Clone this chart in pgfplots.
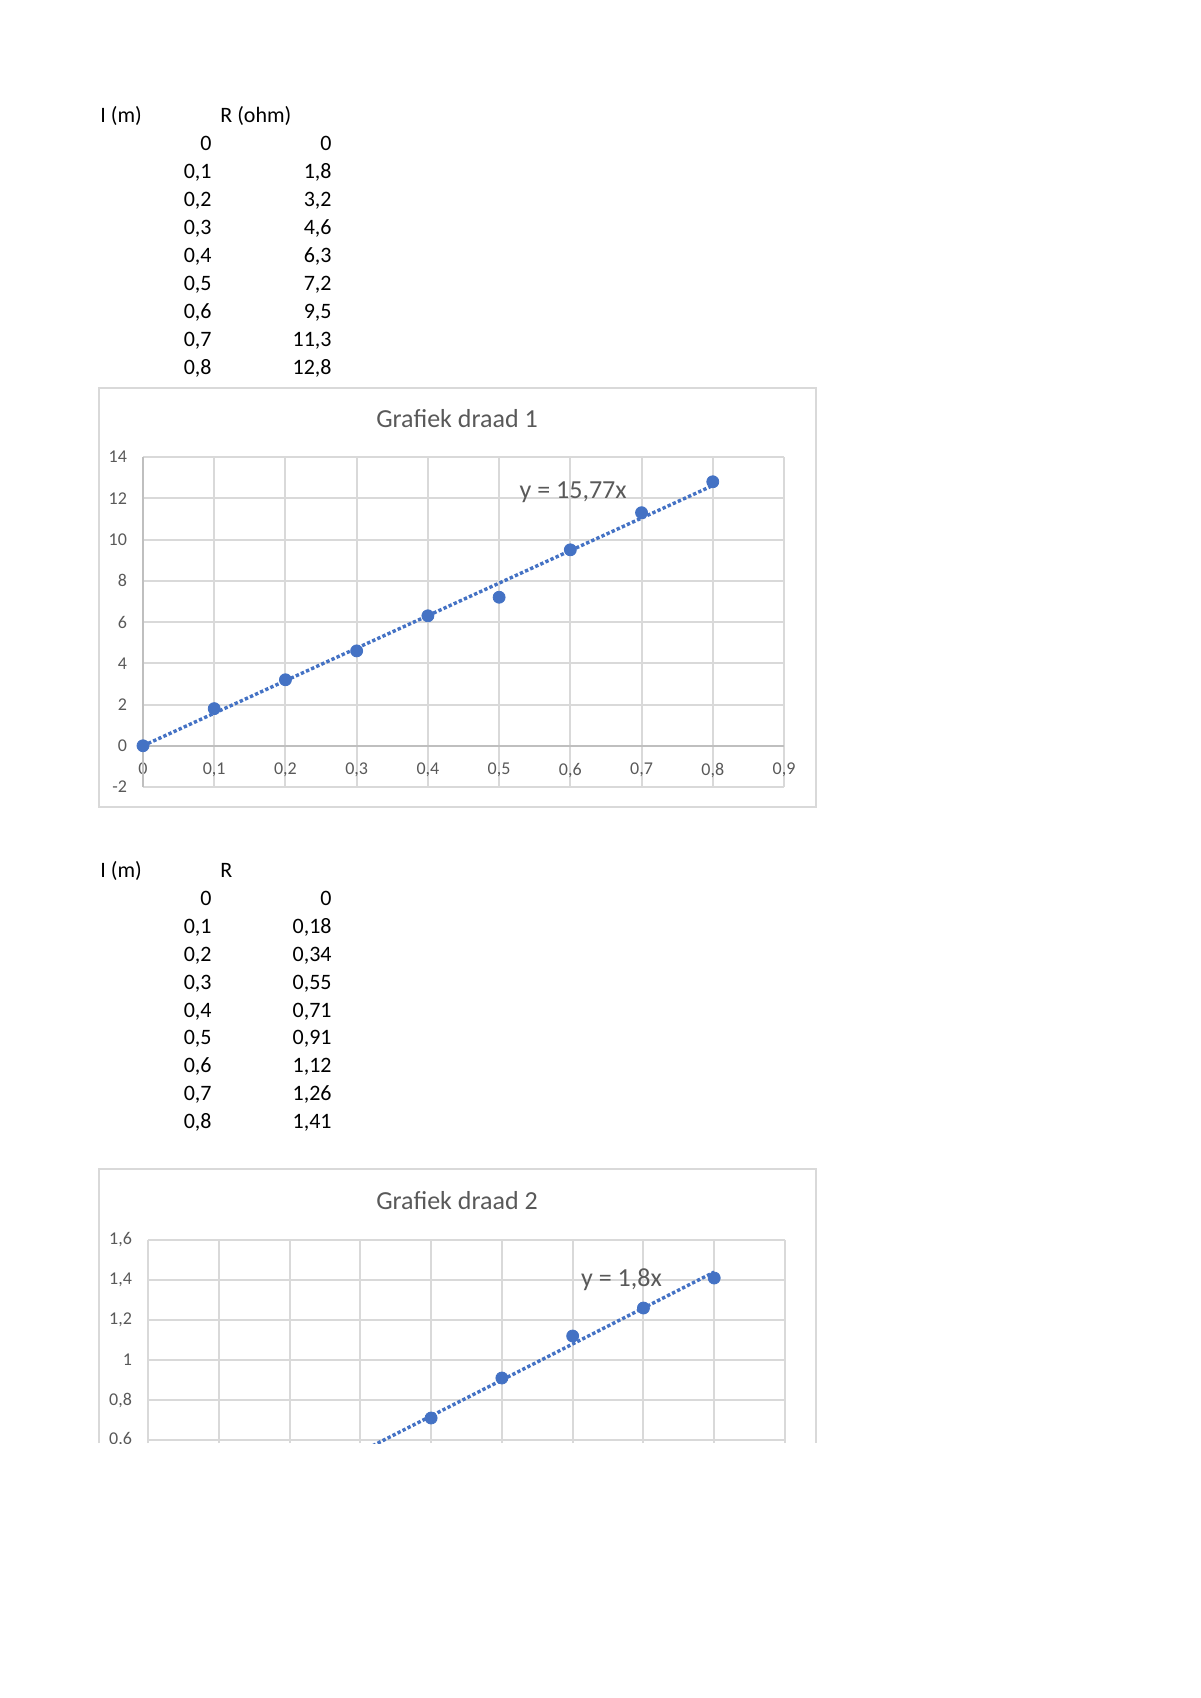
\documentclass[border=0pt]{standalone}
\usepackage{fontspec}
\setmainfont{Carlito}
\usepackage{pgfplots}
\pgfplotsset{compat=1.18}
\definecolor{xlblue}{HTML}{4472C4}
\definecolor{xlgrid}{HTML}{D9D9D9}
\definecolor{xlaxis}{HTML}{BFBFBF}
\definecolor{xltext}{HTML}{595959}

\pgfplotsset{
  xlchart/.style={
    scale only axis,
    axis line style={draw=none},
    major tick length=0pt,
    grid=major,
    major grid style={draw=xlgrid, line width=1pt},
    tick label style={font=\fontsize{9}{10}\selectfont, text=xltext},
    yticklabel style={xshift=-4.5pt},
    /pgf/number format/.cd, use comma, assume math mode=true,
  },
  xlmarks/.style={only marks, mark=*, mark size=3pt, color=xlblue},
  xltrend/.style={color=xlblue, line width=1.7pt, dash pattern=on 1.7pt off 1.1pt},
}

\begin{document}
\begin{tikzpicture}
\begin{scope}[x=0.5pt, y=-0.5pt]
  \path (0,0) rectangle (1200,1698);
  \tikzset{cell/.style={inner sep=0pt, text height=1.55ex, text depth=0.45ex,
    font=\fontsize{11}{13}\selectfont}}
  % table 1
  \node[cell, anchor=west] at (100,117) {I (m)};
  \node[cell, anchor=west] at (220,117) {R (ohm)};
  \foreach \y/\a/\b in {145/0/0, 173/{0,1}/{1,8}, 201/{0,2}/{3,2}, 229/{0,3}/{4,6},
      257/{0,4}/{6,3}, 285/{0,5}/{7,2}, 313/{0,6}/{9,5}, 341/{0,7}/{11,3}, 369/{0,8}/{12,8}} {
    \node[cell, anchor=east] at (212,\y) {\a};
    \node[cell, anchor=east] at (332,\y) {\b};
  }
  % table 2
  \node[cell, anchor=west] at (100,872) {I (m)};
  \node[cell, anchor=west] at (220,872) {R};
  \foreach \y/\a/\b in {900/0/0, 928/{0,1}/{0,18}, 956/{0,2}/{0,34}, 984/{0,3}/{0,55},
      1012/{0,4}/{0,71}, 1039/{0,5}/{0,91}, 1067/{0,6}/{1,12}, 1095/{0,7}/{1,26}, 1123/{0,8}/{1,41}} {
    \node[cell, anchor=east] at (212,\y) {\a};
    \node[cell, anchor=east] at (332,\y) {\b};
  }
  % chart frames and titles
  \draw[xlgrid, line width=1pt] (99,388) rectangle (816,807);
  \node[text=xltext, font=\fontsize{13}{15}\selectfont] at (457,419) {Grafiek draad 1};
  \draw[xlgrid, line width=1pt] (99,1443) -- (99,1169) -- (816,1169) -- (816,1443);
  \node[text=xltext, font=\fontsize{13}{15}\selectfont] at (457,1201) {Grafiek draad 2};
\end{scope}

% chart 1
\begin{axis}[xlchart,
  at={(71.5pt,-393.5pt)}, anchor=south west,
  width=320.5pt, height=165pt,
  xmin=0, xmax=0.9, ymin=-2, ymax=14,
  xtick={0,0.1,0.2,0.3,0.4,0.5,0.6,0.7,0.8,0.9},
  ytick={-2,0,2,4,6,8,10,12,14},
  xticklabel style={yshift=15.5pt},
  extra y ticks={0}, extra y tick labels={},
  extra y tick style={major grid style={draw=xlaxis, line width=1pt}},
  extra x ticks={0}, extra x tick labels={},
  extra x tick style={major grid style={draw=xlaxis, line width=1pt}},
]
  \addplot[xlmarks] coordinates {(0,0) (0.1,1.8) (0.2,3.2) (0.3,4.6) (0.4,6.3)
    (0.5,7.2) (0.6,9.5) (0.7,11.3) (0.8,12.8)};
  \addplot[xltrend] coordinates {(0,0) (0.8,12.616)};
  \node[text=xltext, font=\fontsize{13}{15}\selectfont] at (axis cs:0.604,12.3) {y = 15,77x};
\end{axis}

% chart 2 (cut off at the page edge)
\begin{axis}[xlchart,
  at={(74pt,-721.5pt)}, anchor=south west,
  width=318.5pt, height=101.5pt,
  xmin=0, xmax=0.9, ymin=0.585, ymax=1.6,
  xtick={0,0.1,0.2,0.3,0.4,0.5,0.6,0.7,0.8,0.9}, xticklabels={},
  ytick={0.6,0.8,1,1.2,1.4,1.6},
]
  \addplot[xlmarks] coordinates {(0,0) (0.1,0.18) (0.2,0.34) (0.3,0.55) (0.4,0.71)
    (0.5,0.91) (0.6,1.12) (0.7,1.26) (0.8,1.41)};
  \addplot[xltrend] coordinates {(0,0) (0.8,1.44)};
  \node[text=xltext, font=\fontsize{13}{15}\selectfont] at (axis cs:0.669,1.4) {y = 1,8x};
\end{axis}
\fill[white] (0,-722pt) rectangle (600pt,-849pt);
\end{tikzpicture}
\end{document}
